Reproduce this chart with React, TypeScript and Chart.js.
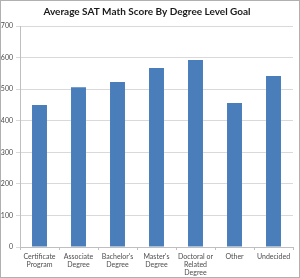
import React, { useEffect, useRef } from "react";
import { Chart, registerables } from "chart.js";

Chart.register(...registerables);

const categories: (string | string[])[] = [
  ["Certificate", "Program"],
  ["Associate", "Degree"],
  ["Bachelor's", "Degree"],
  ["Master's", "Degree"],
  ["Doctoral or", "Related", "Degree"],
  "Other",
  "Undecided",
];
const scores = [450, 506, 523, 567, 592, 456, 542];
const yMin = 0;
const yMax = 700;
const yStep = 100;
const titleText = "Average SAT Math Score By Degree Level Goal";

export default function App() {
  const ref = useRef<HTMLCanvasElement | null>(null);
  useEffect(() => {
    if (!ref.current) return;
    const chart = new Chart(ref.current, {
      type: "bar",
      data: {
        labels: categories,
        datasets: [
          {
            data: scores,
            backgroundColor: "#4A7EBB",
            borderWidth: 0,
            barPercentage: 0.48,
            categoryPercentage: 0.8,
          },
        ],
      },
      options: {
        animation: false,
        responsive: false,
        maintainAspectRatio: false,
        layout: { padding: { left: 0, right: 6, top: 0, bottom: 0 } },
        plugins: {
          legend: { display: false },
          tooltip: { enabled: false },
          title: {
            display: true,
            text: titleText,
            color: "#1a1a1a",
            font: { family: "Lato", size: 10, weight: "bold" },
            padding: { top: 5, bottom: 8 },
          },
        },
        scales: {
          x: {
            grid: {
              display: true,
              offset: true,
              drawOnChartArea: false,
              drawTicks: true,
              tickLength: 3,
              color: "#bfbfbf",
            },
            border: { display: true, color: "#bfbfbf" },
            ticks: {
              color: "#4d4d4d",
              font: { family: "Lato", size: 7, lineHeight: 1.1 },
              maxRotation: 0,
              autoSkip: false,
              padding: 3,
            },
            afterFit: (s: any) => {
              s.height = 30;
            },
          },
          y: {
            min: yMin,
            max: yMax,
            ticks: {
              stepSize: yStep,
              color: "#4d4d4d",
              font: { family: "Lato", size: 7 },
              padding: 3,
            },
            grid: { color: "#d9d9d9", tickLength: 4 },
            border: { display: true, color: "#bfbfbf" },
            afterFit: (s: any) => {
              s.width = 19;
            },
          },
        },
      },
    });
    return () => chart.destroy();
  }, []);
  return (
    <div
      style={{
        position: "absolute",
        left: 0,
        top: 0,
        width: 300,
        height: 278,
        boxSizing: "border-box",
        border: "1px solid #b0b0b0",
        background: "#fff",
      }}
    >
      <canvas ref={ref} width={298} height={276} style={{ display: "block" }} />
    </div>
  );
}
